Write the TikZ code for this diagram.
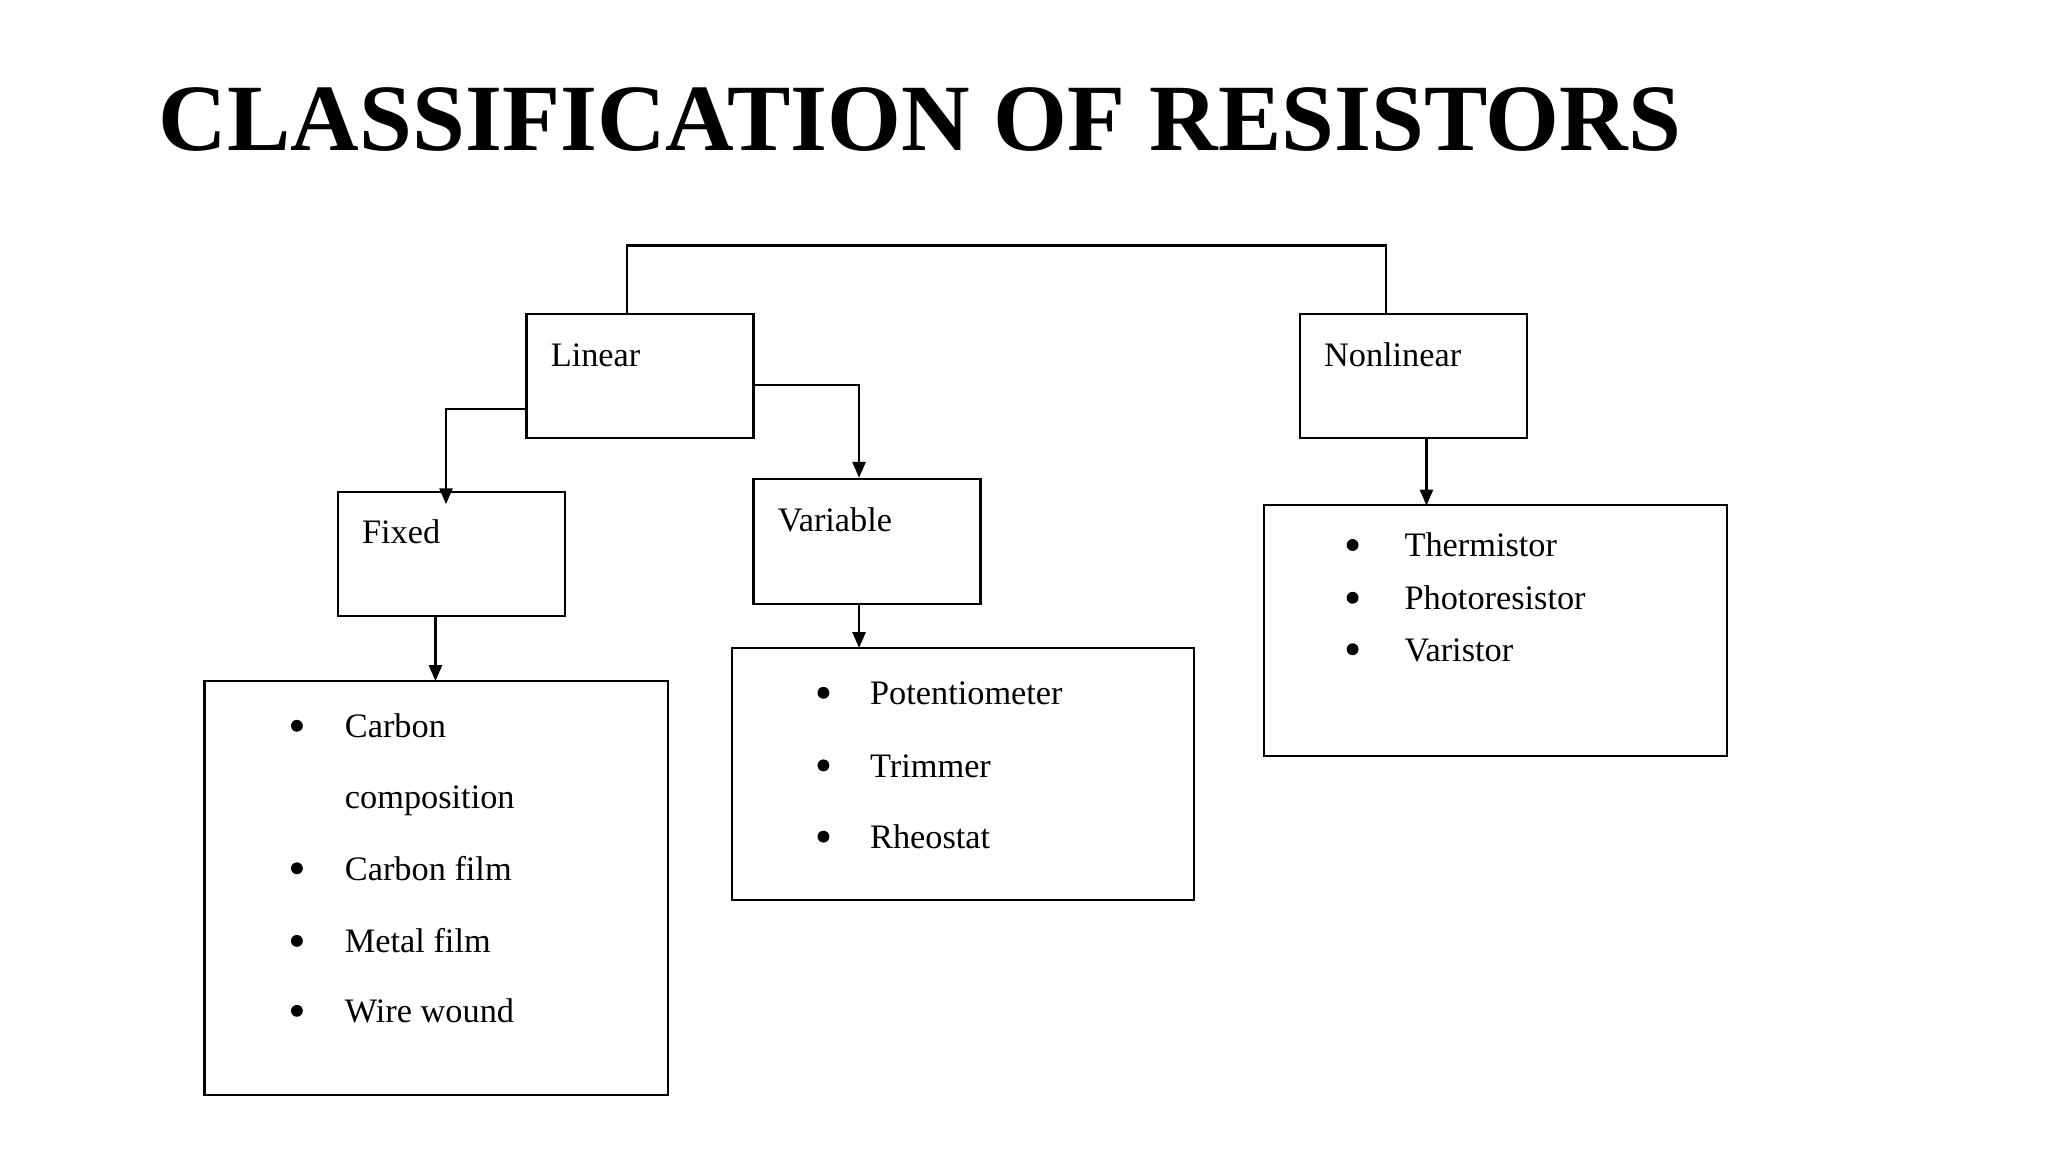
\documentclass[tikz,border=0pt]{standalone}
\usepackage{fontspec}
\setmainfont{Liberation Serif}
\usetikzlibrary{arrows.meta}
\begin{document}
\begin{tikzpicture}[x=0.5pt,y=-0.5pt,
  box/.style={draw,line width=0.8pt},
  con/.style={line width=0.8pt},
  arr/.style={con,-{Triangle[length=6pt,width=5pt]}},
  lbl/.style={anchor=base west,inner sep=0pt,font=\fontsize{13}{16}\selectfont},
  bul/.style={fill,circle,inner sep=0pt,minimum size=4.5pt}]
\useasboundingbox (0,0) rectangle (1552,873);
\node[anchor=base west,inner sep=0pt,font=\fontsize{36}{42}\selectfont\bfseries] (title) at (120,114) {CLASSIFICATION OF RESISTORS};
\draw[box] (399,238) rectangle (571,332);
\draw[box] (985,238) rectangle (1157,332);
\draw[box] (256,373) rectangle (428,467);
\draw[box] (571,363) rectangle (743,458);
\draw[box] (155,516) rectangle (506,830);
\draw[box] (555,491) rectangle (905,682);
\draw[box] (958,383) rectangle (1309,573);
\coordinate (lt) at (475,238); \coordinate (nt) at (1050,238);
\draw[con] (lt) -- (475,186) -- (1050,186) -- (nt);
\draw[arr] (399,310) -- (338,310) -- (338,382);
\draw[arr] (571,292) -- (651,292) -- (651,362);
\draw[arr] (330,467) -- (330,516);
\draw[arr] (651,458) -- (651,491);
\draw[arr] (1081,332) -- (1081,383);
\node[lbl] (l) at (417,278) {Linear};
\node[lbl] (n) at (1003,278) {Nonlinear};
\node[lbl] (f) at (274,412) {Fixed};
\node[lbl] (v) at (589,403) {Variable};
\foreach \y/\t in {559/Carbon,667/Carbon film,722/Metal film,775/Wire wound}{
  \node[lbl] at (261,\y) {\t}; \node[bul] at (225,\y-9) {};}
\node[lbl] at (261,613) {composition};
\foreach \y/\t in {534/Potentiometer,589/Trimmer,643/Rheostat}{
  \node[lbl] at (659,\y) {\t}; \node[bul] at (624,\y-9) {};}
\foreach \y/\t in {422/Thermistor,462/Photoresistor,501/Varistor}{
  \node[lbl] at (1064,\y) {\t}; \node[bul] at (1025,\y-9) {};}
\end{tikzpicture}
\end{document}
